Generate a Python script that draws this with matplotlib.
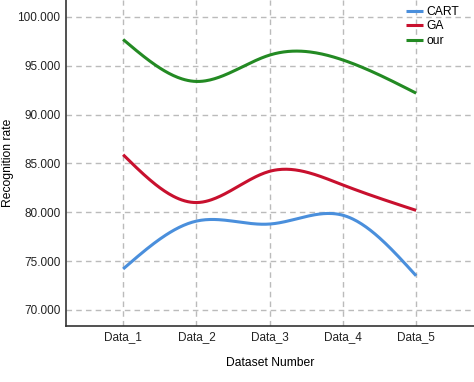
import numpy as np
import matplotlib
matplotlib.use("Agg")
import matplotlib.pyplot as plt

plt.rcParams['font.family'] = ['Liberation Sans', 'DejaVu Sans']

categories = ["Data_1", "Data_2", "Data_3", "Data_4", "Data_5"]
cart = [74.2, 79.1, 78.8, 79.7, 73.5]
ga = [85.9, 81.0, 84.2, 82.8, 80.2]
our = [97.7, 93.4, 96.1, 95.6, 92.2]
yticks = [70, 75, 80, 85, 90, 95, 100]


def natural_spline(x, y, n=200):
    x = np.asarray(x, float); y = np.asarray(y, float)
    k = len(x); h = np.diff(x)
    A = np.zeros((k, k)); b = np.zeros(k)
    A[0, 0] = A[-1, -1] = 1
    for i in range(1, k - 1):
        A[i, i - 1] = h[i - 1]; A[i, i] = 2 * (h[i - 1] + h[i]); A[i, i + 1] = h[i]
        b[i] = 3 * ((y[i + 1] - y[i]) / h[i] - (y[i] - y[i - 1]) / h[i - 1])
    c = np.linalg.solve(A, b)
    xs = np.linspace(x[0], x[-1], n); ys = np.empty_like(xs)
    for j, t in enumerate(xs):
        i = min(np.searchsorted(x, t, side='right') - 1, k - 2)
        d = t - x[i]
        bb = (y[i + 1] - y[i]) / h[i] - h[i] * (c[i + 1] + 2 * c[i]) / 3
        dd = (c[i + 1] - c[i]) / (3 * h[i])
        ys[j] = y[i] + bb * d + c[i] * d ** 2 + dd * d ** 3
    return xs, ys


fig = plt.figure(figsize=(4.74, 3.82), dpi=100)
ax = fig.add_axes([66 / 474, 1 - 326 / 382, 1 - 66 / 474, 326 / 382])
xpos = np.arange(1, len(categories) + 1)
series = [("CART", cart, "#4a8fdc"), ("GA", ga, "#c8102e"), ("our", our, "#238a23")]
for name, vals, col in series:
    xs, ys = natural_spline(xpos, vals)
    ax.plot(xs, ys, color=col, lw=2.2, label=name, solid_capstyle='butt')

ax.set_xlim(0.22, 5.79)
ax.set_ylim(68.36, 101.74)
ax.set_xticks(xpos)
ax.set_xticklabels(categories)
ax.set_yticks(yticks)
ax.set_yticklabels([f"{v:.3f}" for v in yticks])
ax.tick_params(length=0, labelsize=8.5, colors='#222222', pad=4)
ax.grid(True, linestyle=(0, (4, 3)), color='#bbbbbb', lw=1)
for s in ['top', 'right']:
    ax.spines[s].set_visible(False)
for s in ['left', 'bottom']:
    ax.spines[s].set_color('#333333')
    ax.spines[s].set_linewidth(1.2)
ax.set_ylabel("Recognition rate", fontsize=8.7)
ax.yaxis.set_label_coords(-52 / 408, 0.5)
ax.set_xlabel("Dataset Number", fontsize=8.7, labelpad=10)
leg = ax.legend(loc='upper left', bbox_to_anchor=(334 / 408, 1.0), frameon=False,
                fontsize=8.7, handlelength=1.4, handletextpad=0.3, labelspacing=0.2,
                borderaxespad=0.1)
fig.savefig("out.png", dpi=100)
